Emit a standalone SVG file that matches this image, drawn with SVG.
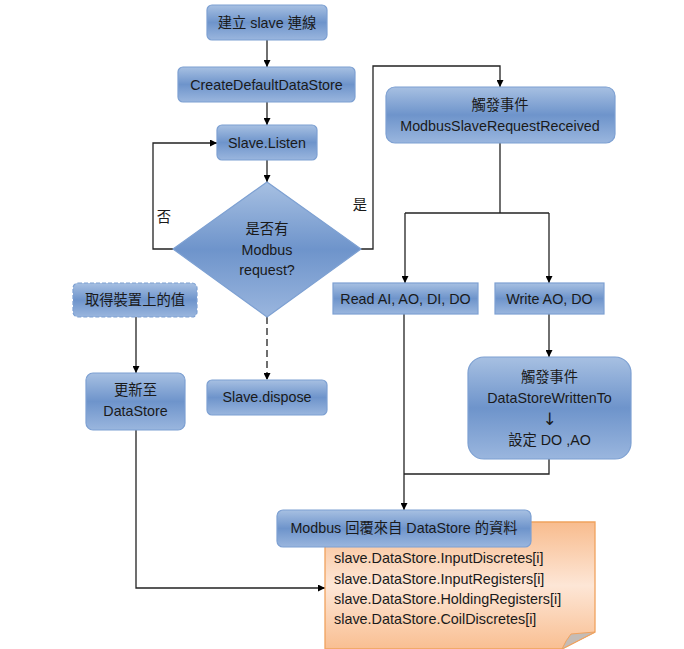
<svg xmlns="http://www.w3.org/2000/svg" width="684" height="649" viewBox="0 0 684 649">
<defs>
<linearGradient id="gb" x1="0" y1="0" x2="0" y2="1">
<stop offset="0" stop-color="#a7c0e2"/>
<stop offset="0.5" stop-color="#6e94cb"/>
<stop offset="1" stop-color="#9ab6de"/>
</linearGradient>
<linearGradient id="go" x1="0" y1="0" x2="0" y2="1">
<stop offset="0" stop-color="#f8bc8e"/>
<stop offset="0.5" stop-color="#fde6d6"/>
<stop offset="1" stop-color="#f9bf92"/>
</linearGradient>
<marker id="ah" viewBox="0 0 10 10" refX="10" refY="5" markerWidth="7" markerHeight="7" markerUnits="userSpaceOnUse" orient="auto">
<path d="M0,0 L10,5 L0,10 z" fill="#000"/>
</marker>
</defs>
<style>
.box{fill:url(#gb);stroke:#7da0d2;stroke-width:1.2}
.t{font-family:"Liberation Sans","Noto Sans CJK TC",sans-serif;font-size:14.3px;fill:#1a1a1a;text-anchor:middle;dominant-baseline:central}
.tl{font-family:"Liberation Sans","Noto Sans CJK TC",sans-serif;font-size:14.4px;fill:#1a1a1a;dominant-baseline:central}
.c{fill:none;stroke:#222;stroke-width:1.3}
.ca{fill:none;stroke:#222;stroke-width:1.3;marker-end:url(#ah)}
</style>
<rect width="684" height="649" fill="#fff"/>
<g id="connectors">
<path class="ca" d="M267,40 V67"/>
<path class="ca" d="M267,102 V125"/>
<path class="ca" d="M267,160 V182"/>
<path class="ca" d="M173,249 H153 V143 H217"/>
<path class="ca" d="M361,249 H373 V66 H500 V87"/>
<path class="c" d="M500,143 V213"/>
<path class="c" d="M405,213 H549"/>
<path class="ca" d="M405,213 V283"/>
<path class="ca" d="M549,213 V283"/>
<path class="ca" d="M267,317 V380" stroke-dasharray="7,4"/>
<path class="ca" d="M136,317 V373"/>
<path class="ca" d="M549,314 V357"/>
<path class="c" d="M549,459 V474 H404"/>
<path class="ca" d="M404,314 V510"/>
<path class="ca" d="M136,430 V588 H325"/>
</g>
<g id="n1"><rect class="box" x="207" y="5" width="120" height="35" rx="5"/><text class="t" x="267" y="22.5">建立 slave 連線</text></g>
<g id="n2"><rect class="box" x="178" y="67" width="177" height="35" rx="5"/><text class="t" x="266.5" y="84.5">CreateDefaultDataStore</text></g>
<g id="n3"><rect class="box" x="217" y="125" width="100" height="35" rx="5"/><text class="t" x="267" y="142.5">Slave.Listen</text></g>
<g id="n4"><polygon class="box" points="267,182 361,249 267,317 173,249"/>
<text class="t" x="267" y="229">是否有</text><text class="t" x="267" y="250">Modbus</text><text class="t" x="267" y="270">request?</text></g>
<g id="lbl-no"><text class="t" x="164" y="217">否</text></g>
<g id="lbl-yes"><text class="t" x="360" y="205">是</text></g>
<g id="n5"><rect class="box" x="386" y="87" width="229" height="56" rx="9"/>
<text class="t" x="500" y="105">觸發事件</text><text class="t" x="500" y="126">ModbusSlaveRequestReceived</text></g>
<g id="n6"><rect class="box" x="333" y="283" width="145" height="31"/><text class="t" x="405.5" y="298.5">Read AI, AO, DI, DO</text></g>
<g id="n7"><rect class="box" x="495" y="283" width="109" height="31"/><text class="t" x="549.5" y="298.5">Write AO, DO</text></g>
<g id="n8"><rect class="box" x="73" y="283" width="124" height="34" rx="5" stroke-dasharray="4,2"/><text class="t" x="135" y="300">取得裝置上的值</text></g>
<g id="n9"><rect class="box" x="86" y="373" width="99" height="57" rx="7"/>
<text class="t" x="135.5" y="390">更新至</text><text class="t" x="135.5" y="411">DataStore</text></g>
<g id="n10"><rect class="box" x="207" y="380" width="120" height="35" rx="5"/><text class="t" x="267" y="397">Slave.dispose</text></g>
<g id="n11"><rect class="box" x="468" y="357" width="163" height="102" rx="16"/>
<text class="t" x="549.5" y="377">觸發事件</text><text class="t" x="549.5" y="398">DataStoreWrittenTo</text><text class="t" x="549.5" y="419" style="font-family:'DejaVu Sans',sans-serif;font-size:17px">↓</text><text class="t" x="549.5" y="440">設定 DO ,AO</text></g>
<g id="n12">
<path d="M325,522 H595 V632 L562,649 H325 Z" fill="url(#go)" stroke="#f0a25e" stroke-width="1.3"/>
<path d="M595,632 L571,634 Q566,640 562,649 Z" fill="#c4bcb6" stroke="#f0a25e" stroke-width="1"/>
<text class="tl" x="334" y="558">slave.DataStore.InputDiscretes[i]</text>
<text class="tl" x="334" y="579">slave.DataStore.InputRegisters[i]</text>
<text class="tl" x="334" y="599">slave.DataStore.HoldingRegisters[i]</text>
<text class="tl" x="334" y="619">slave.DataStore.CoilDiscretes[i]</text>
</g>
<g id="n13"><rect class="box" x="277" y="510" width="254" height="37" rx="6"/><text class="t" x="404" y="528">Modbus 回覆來自 DataStore 的資料</text></g>
</svg>
